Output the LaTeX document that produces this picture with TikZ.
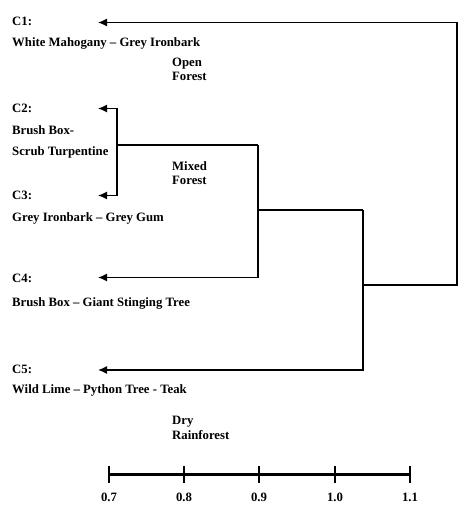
\documentclass[tikz,border=0pt]{standalone}
\usepackage{fontspec}
\setmainfont{Liberation Serif}
\usetikzlibrary{arrows.meta}
\tikzset{
  lbl/.style={anchor=base west, inner sep=0pt, font=\bfseries\fontsize{12.8}{14.5}\selectfont},
  grp/.style={lbl, align=left},
  tie/.style={line width=1.4bp},
  link/.style={tie, -{Latex[length=9bp,width=8bp]}},
}
\begin{document}
\begin{tikzpicture}[x=1bp,y=-1bp,line join=miter]
  \useasboundingbox (0,0) rectangle (474,512);

  % skupiny
  \node[lbl] (c1) at (12,26) {C1:};
  \node[lbl] (n1) at (12,46.5) {White Mahogany -- Grey Ironbark};
  \node[lbl] (c2) at (12,113) {C2:};
  \node[lbl] (n2a) at (12,134.3) {Brush Box-};
  \node[lbl] (n2b) at (12,155.7) {Scrub Turpentine};
  \node[lbl] (c3) at (12,200) {C3:};
  \node[lbl] (n3) at (12,221) {Grey Ironbark -- Grey Gum};
  \node[lbl] (c4) at (12,282.7) {C4:};
  \node[lbl] (n4) at (12,306.7) {Brush Box -- Giant Stinging Tree};
  \node[lbl] (c5) at (12,373.3) {C5:};
  \node[lbl] (n5) at (12,393.3) {Wild Lime -- Python Tree - Teak};

  % typy lesa (base = posledni radek)
  \node[grp] (open) at (172,81) {Open\\Forest};
  \node[grp] (mixed) at (172,185) {Mixed\\Forest};
  \node[grp] (dry) at (172,439.3) {Dry\\Rainforest};

  % hroty sipek
  \coordinate (t1) at (98,22.5);
  \coordinate (t2) at (98,108.5);
  \coordinate (t3) at (98,195.5);
  \coordinate (t4) at (98,277.5);
  \coordinate (t5) at (98,370);

  % uzly stromu
  \coordinate (j23) at (117,145);
  \coordinate (k23) at (258,145);
  \coordinate (j234) at (258,210);
  \coordinate (k234) at (363,210);
  \coordinate (j2345) at (363,285);
  \coordinate (r1) at (457,22.5);

  \draw[link] (j23) |- (t2);
  \draw[link] (j23) |- (t3);
  \draw[tie] (j23) -- (k23);
  \draw[link] (k23) |- (t4);
  \draw[tie] (j234) -- (k234);
  \draw[link] (k234) |- (t5);
  \draw[link] (j2345) -| (r1) -- (t1);

  % meritko
  \coordinate (s0) at (109,474.5);
  \coordinate (s1) at (410,474.5);
  \draw[line width=3bp] (s0) -- (s1);
  \foreach \x/\v in {109/0.7,184/0.8,259/0.9,335/1.0,410/1.1}{
    \draw[line width=2.6bp] (\x,466) -- (\x,483);
    \node[lbl,anchor=base] (v\x) at (\x,501.7) {\v};
  }
\end{tikzpicture}
\end{document}
